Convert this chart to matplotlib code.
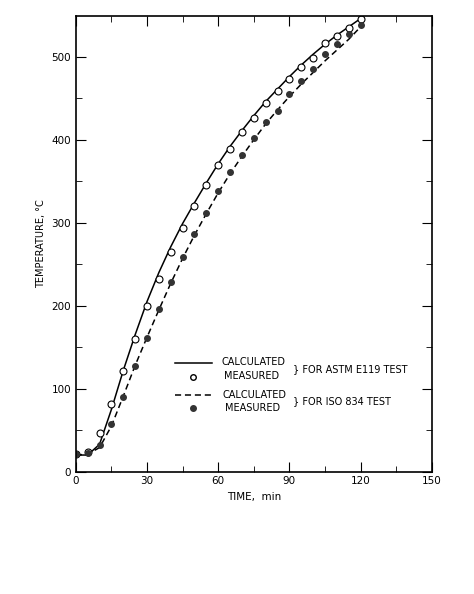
import matplotlib
matplotlib.use("Agg")
import matplotlib.pyplot as plt
from matplotlib.lines import Line2D

t = [0,5,10,15,20,25,30,35,40,45,50,55,60,65,70,75,80,85,90,95,100,105,110,115,120]
astm_meas = [21,24,46,82,121,160,199,232,265,294,320,345,369,389,409,426,444,459,473,488,498,517,525,535,545]
iso_meas = [21,22,32,58,90,127,161,196,229,259,286,312,338,361,382,402,421,435,455,471,485,503,515,527,538]
astm_calc = [20,20,33,75,122,165,205,240,271,299,324,348,371,392,411,429,446,461,476,490,503,515,526,536,546]
iso_calc = [20,21,29,55,91,128,162,195,227,257,285,311,336,359,380,400,419,436,452,467,481,495,508,521,536]

fig = plt.figure(figsize=(4.74,5.94), dpi=100)
ax = fig.add_axes([0.16,0.206,0.751,0.767])
ax.plot(t, astm_calc, 'k-', lw=1.1)
ax.plot(t, iso_calc, 'k--', lw=1.1, dashes=(4,2.5))
ax.plot(t, astm_meas, 'o', mfc='white', mec='k', ms=5, mew=0.8)
ax.plot(t, iso_meas, 'o', mfc='#333', mec='#333', ms=4)
ax.set_xlim(0,150); ax.set_ylim(0,549)
ax.set_xticks([0,30,60,90,120,150]); ax.set_yticks([0,100,200,300,400,500])
ax.set_xticks([15,45,75,105,135], minor=True); ax.set_yticks([50,150,250,350,450], minor=True)
ax.tick_params(which='both', direction='in', top=True, right=True, labelsize=7.5)
ax.tick_params(which='major', length=7); ax.tick_params(which='minor', length=4)
ax.set_xlabel('TIME,  min', fontsize=7.5)
ax.set_ylabel('TEMPERATURE, °C', fontsize=7)
for s in ax.spines.values(): s.set_linewidth(1.2)

tr = ax.transAxes
ax.add_line(Line2D([0.279,0.382],[0.238,0.238], color='k', lw=1.1, transform=tr))
ax.plot([0.33],[0.208],'o',mfc='white',mec='k',ms=4,transform=tr)
ax.add_line(Line2D([0.279,0.382],[0.168,0.168], color='k', lw=1.1, ls='--', dashes=(4,2.5), transform=tr))
ax.plot([0.33],[0.139],'o',mfc='#333',mec='#333',ms=4,transform=tr)
fs=7
ax.text(0.41,0.240,'CALCULATED',fontsize=fs,va='center',transform=tr)
ax.text(0.415,0.210,'MEASURED',fontsize=fs,va='center',transform=tr)
ax.text(0.413,0.169,'CALCULATED',fontsize=fs,va='center',transform=tr)
ax.text(0.418,0.139,'MEASURED',fontsize=fs,va='center',transform=tr)
ax.text(0.61,0.225,'} FOR ASTM E119 TEST',fontsize=fs,va='center',transform=tr)
ax.text(0.61,0.154,'} FOR ISO 834 TEST',fontsize=fs,va='center',transform=tr)
fig.savefig('out.png', dpi=100)
